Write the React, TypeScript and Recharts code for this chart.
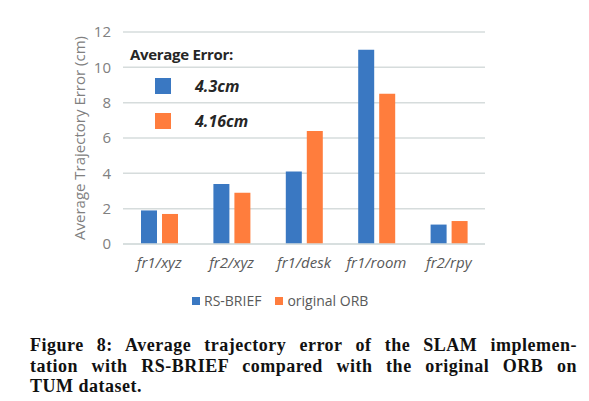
import { BarChart, Bar, XAxis, YAxis, CartesianGrid } from 'recharts';

const categories = ['fr1/xyz', 'fr2/xyz', 'fr1/desk', 'fr1/room', 'fr2/rpy'];
const rsBrief = [1.9, 3.4, 4.1, 11.0, 1.1];
const originalOrb = [1.7, 2.9, 6.4, 8.5, 1.3];
const yTicks = [0, 2, 4, 6, 8, 10, 12];
const seriesNames = ['RS-BRIEF', 'original ORB'];
const avgErrors = ['4.3cm', '4.16cm'];

const BLUE = '#3a78c2';
const ORANGE = '#ff7d3d';
const COLORS = [BLUE, ORANGE];

const rows = categories.map((name, i) => ({
  name,
  rs: rsBrief[i],
  orb: originalOrb[i],
}));

const sans = '"Open Sans", "Noto Sans", sans-serif';

export default function App() {
  return (
    <div style={{ position: 'relative', width: 589, height: 401, margin: -8, background: '#fff' }}>
      <BarChart
        width={589}
        height={320}
        data={rows}
        margin={{ top: 32, right: 104, left: 0, bottom: 46 }}
        barSize={16}
        barGap={5}
      >
        <CartesianGrid vertical={false} stroke="#d6dcdc" strokeWidth={1.5} />
        <XAxis
          dataKey="name"
          height={30}
          tickLine={false}
          axisLine={{ stroke: '#d6dcdc', strokeWidth: 1.5 }}
          tickSize={0}
          tickMargin={13}
          tick={{ fill: '#595959', fontSize: 15, fontStyle: 'italic', fontFamily: sans }}
        />
        <YAxis
          width={123}
          domain={[0, 12]}
          ticks={yTicks}
          interval={0}
          tickLine={false}
          axisLine={false}
          tickSize={0}
          tickMargin={12}
          tick={{ fill: '#808080', fontSize: 15, fontFamily: sans }}
          label={{
            value: 'Average Trajectory Error (cm)',
            angle: -90,
            position: 'insideLeft',
            offset: 0,
            dx: 80,
            style: { fill: '#808080', fontSize: 15, fontFamily: sans, textAnchor: 'middle' },
          }}
        />
        <Bar dataKey="rs" name={seriesNames[0]} fill={BLUE} isAnimationActive={false} />
        <Bar dataKey="orb" name={seriesNames[1]} fill={ORANGE} isAnimationActive={false} />
      </BarChart>

      {/* inner "Average Error" box */}
      <div style={{ position: 'absolute', left: 130, top: 44, fontFamily: sans, fontWeight: 700, fontSize: 15, color: '#262626', letterSpacing: -0.3 }}>
        Average Error:
      </div>
      {avgErrors.map((v, i) => (
        <div key={v} style={{ position: 'absolute', left: 155, top: 78 + i * 35, display: 'flex', alignItems: 'center' }}>
          <span style={{ width: 16, height: 16, background: COLORS[i], display: 'inline-block' }} />
          <span style={{ marginLeft: 24, fontFamily: sans, fontWeight: 700, fontStyle: 'italic', fontSize: 16, color: '#262626', lineHeight: '16px' }}>
            {v}
          </span>
        </div>
      ))}

      {/* legend */}
      <div style={{ position: 'absolute', left: 192, top: 291, display: 'flex', alignItems: 'center', fontFamily: sans, fontSize: 14, color: '#595959' }}>
        {seriesNames.map((n, i) => (
          <span key={n} style={{ display: 'flex', alignItems: 'center', marginRight: 14 }}>
            <span style={{ width: 8, height: 8, background: COLORS[i], display: 'inline-block', marginRight: 4 }} />
            {n}
          </span>
        ))}
      </div>

      {/* caption */}
      <div style={{ position: 'absolute', left: 30, top: 335, width: 547, fontFamily: '"Liberation Serif", serif', fontWeight: 700, fontSize: 18, lineHeight: '20.5px', letterSpacing: 0.5, color: '#111' }}>
        <div style={{ textAlign: 'justify', textAlignLast: 'justify' }}>Figure 8: Average trajectory error of the SLAM implemen-</div>
        <div style={{ textAlign: 'justify', textAlignLast: 'justify' }}>tation with RS-BRIEF compared with the original ORB on</div>
        <div>TUM dataset.</div>
      </div>
    </div>
  );
}
